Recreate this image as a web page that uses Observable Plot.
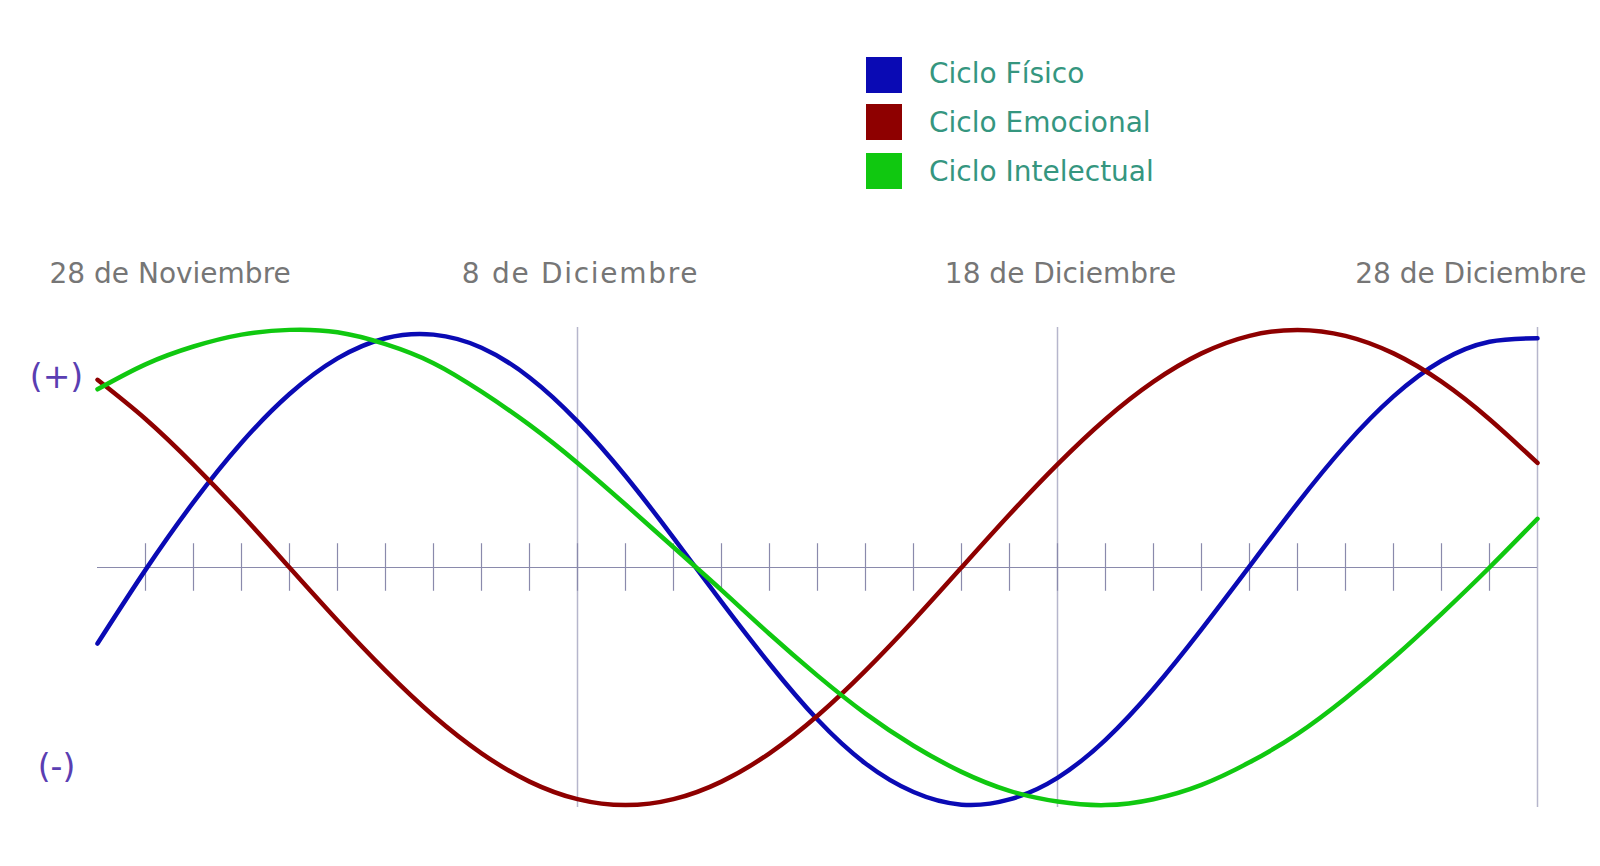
<!DOCTYPE html>
<html>
<head>
<meta charset="utf-8">
<script src="https://cdn.jsdelivr.net/npm/d3@7"></script>
<script src="https://cdn.jsdelivr.net/npm/@observablehq/plot@0.6"></script>
<style>
  html, body { margin: 0; padding: 0; background: #ffffff; }
  body { width: 1600px; height: 866px; overflow: hidden; font-family: "DejaVu Sans", Verdana, sans-serif; }
  #legend { position: relative; width: 1600px; height: 200px; }
  .item { position: absolute; left: 866px; height: 36px; display: flex; align-items: center; }
  .sw { width: 36px; height: 36px; }
  .lab { margin-left: 27px; font-size: 28px; color: #35967f; white-space: nowrap; }
  #chart svg { display: block; }
</style>
</head>
<body>
<div id="legend"></div>
<div id="chart"></div>
<script>
// Days counted from 28 de Noviembre (day 0) to 28 de Diciembre (day 30)
const days = d3.range(0, 31);

const seriesNames = ["Ciclo Físico", "Ciclo Emocional", "Ciclo Intelectual"];
const seriesColors = ["#0a0ab4", "#8e0000", "#10c810"];

const fisico = [-0.32, -0.01, 0.275, 0.525, 0.73, 0.88, 0.965, 0.98, 0.925, 0.80,
                0.615, 0.385, 0.125, -0.145, -0.405, -0.64, -0.825, -0.945, -0.998, -0.976,
                -0.885, -0.725, -0.51, -0.26, 0.005, 0.27, 0.515, 0.72, 0.87, 0.95, 0.965];
const emocional = [0.79, 0.625, 0.433, 0.223, 0.0, -0.223, -0.434, -0.624, -0.782, -0.901,
                   -0.975, -1.0, -0.975, -0.901, -0.782, -0.624, -0.434, -0.223, 0.0, 0.223,
                   0.434, 0.624, 0.782, 0.901, 0.975, 1.0, 0.975, 0.901, 0.782, 0.624, 0.44];
const intelectual = [0.75, 0.855, 0.93, 0.98, 1.0, 0.99, 0.94, 0.86, 0.74, 0.60,
                     0.44, 0.265, 0.085, -0.095, -0.28, -0.455, -0.615, -0.75, -0.86, -0.94,
                     -0.985, -1.0, -0.975, -0.915, -0.82, -0.70, -0.55, -0.38, -0.195, 0.0, 0.205];

const tickDays = [0, 10, 20, 30];
const tickLabels = ["28 de Noviembre", "8 de Diciembre", "18 de Diciembre", "28 de Diciembre"];
const gridDays = [10, 20, 30];
const minorDays = d3.range(1, 30);
const yLabels = ["(+)", "(-)"];
const yLabelValues = [0.80, -0.84];

// Build long table
const seriesValues = [fisico, emocional, intelectual];
const rows = [];
seriesValues.forEach((vals, i) => {
  vals.forEach((v, j) => rows.push({ day: days[j], value: v, serie: seriesNames[i] }));
});

// Legend (HTML, above the SVG)
const legendTops = [57, 104, 153];
const legendTextShift = [-2, 0, 0];
const legend = document.getElementById("legend");
seriesNames.forEach((name, i) => {
  const it = document.createElement("div");
  it.className = "item";
  it.style.top = legendTops[i] + "px";
  it.innerHTML = `<div class="sw" style="background:${seriesColors[i]}"></div><div class="lab" style="position:relative;top:${legendTextShift[i]}px">${name}</div>`;
  legend.appendChild(it);
});

const font = "DejaVu Sans, Verdana, sans-serif";
const ticksTable = tickDays.map((d, i) => ({ day: d, label: tickLabels[i] }));
const yTable = yLabels.map((l, i) => ({ label: l, value: yLabelValues[i] }));

const chart = Plot.plot({
  width: 1600,
  height: 666,
  marginTop: 127,
  marginBottom: 59,
  marginLeft: 97,
  marginRight: 63,
  style: { background: "#ffffff", fontFamily: font },
  x: { domain: [0, 30], axis: null },
  y: { domain: [-1.01, 1.01], axis: null },
  color: { domain: seriesNames, range: seriesColors },
  marks: [
    Plot.ruleX(gridDays, { stroke: "#b6b6cc", strokeWidth: 1.5 }),
    Plot.ruleX(minorDays, { y1: -0.1, y2: 0.1, stroke: "#8a8aac", strokeWidth: 1.2 }),
    Plot.ruleY([0], { stroke: "#8a8aac", strokeWidth: 1.2 }),
    Plot.line(rows, { x: "day", y: "value", z: "serie", stroke: "serie", strokeWidth: 4.5, curve: "natural" }),
    Plot.text(ticksTable.slice(0, 1), { x: "day", text: "label", frameAnchor: "top", dy: -64, dx: -48, textAnchor: "start", fontSize: 28, fill: "#767676", fontFamily: font }),
    Plot.text(ticksTable.slice(1, 3), { x: "day", text: "label", frameAnchor: "top", dy: -64, dx: 3, textAnchor: "middle", fontSize: 28, fill: "#767676", fontFamily: font }),
    Plot.text(ticksTable.slice(3), { x: "day", text: "label", frameAnchor: "top", dy: -64, dx: 49, textAnchor: "end", fontSize: 28, fill: "#767676", fontFamily: font }),
    Plot.text(yTable, { y: "value", text: "label", frameAnchor: "left", dx: -41, textAnchor: "middle", fontSize: 33, fill: "#5a3eb2", fontFamily: font })
  ]
});
// the "8 de Diciembre" label is drawn slightly wider in the reference
d3.select(chart).selectAll("text").filter(function () { return this.textContent === tickLabels[1]; })
  .style("letter-spacing", "1.7px");
document.getElementById("chart").appendChild(chart);
</script>
</body>
</html>
